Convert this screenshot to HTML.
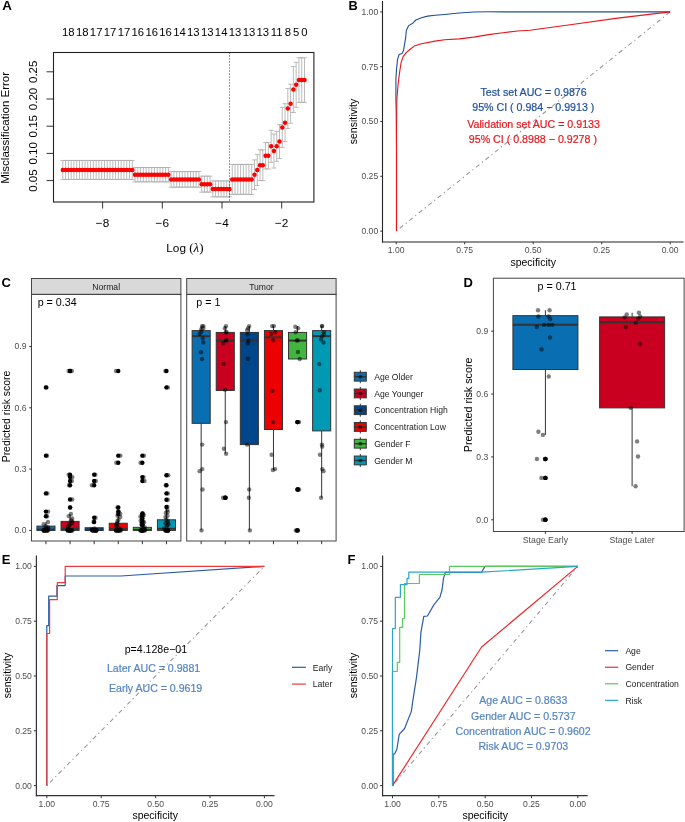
<!DOCTYPE html>
<html><head><meta charset="utf-8"><style>
html,body{margin:0;padding:0;background:#fff;}
svg{display:block;}
text{font-family:"Liberation Sans", sans-serif;}
</style></head><body>
<svg width="685" height="822" viewBox="0 0 685 822" style="will-change:transform;filter:blur(0.3px)">
<rect width="685" height="822" fill="#fff"/>
<text x="2.30" y="9.90" font-size="13.3" fill="#000" text-anchor="start" font-weight="bold">A</text>
<path d="M62.80,160.46V179.46M60.40,160.46H65.20M60.40,179.46H65.20M65.58,160.46V179.46M63.18,160.46H67.98M63.18,179.46H67.98M68.36,160.46V179.46M65.96,160.46H70.76M65.96,179.46H70.76M71.13,160.46V179.46M68.73,160.46H73.53M68.73,179.46H73.53M73.91,160.46V179.46M71.51,160.46H76.31M71.51,179.46H76.31M76.69,160.46V179.46M74.29,160.46H79.09M74.29,179.46H79.09M79.47,160.46V179.46M77.07,160.46H81.87M77.07,179.46H81.87M82.25,160.46V179.46M79.85,160.46H84.65M79.85,179.46H84.65M85.02,160.46V179.46M82.62,160.46H87.42M82.62,179.46H87.42M87.80,160.46V179.46M85.40,160.46H90.20M85.40,179.46H90.20M90.58,160.46V179.46M88.18,160.46H92.98M88.18,179.46H92.98M93.36,160.46V179.46M90.96,160.46H95.76M90.96,179.46H95.76M96.14,160.46V179.46M93.74,160.46H98.54M93.74,179.46H98.54M98.91,160.46V179.46M96.51,160.46H101.31M96.51,179.46H101.31M101.69,160.46V179.46M99.29,160.46H104.09M99.29,179.46H104.09M104.47,160.46V179.46M102.07,160.46H106.87M102.07,179.46H106.87M107.25,160.46V179.46M104.85,160.46H109.65M104.85,179.46H109.65M110.03,160.46V179.46M107.63,160.46H112.43M107.63,179.46H112.43M112.80,160.46V179.46M110.40,160.46H115.20M110.40,179.46H115.20M115.58,160.46V179.46M113.18,160.46H117.98M113.18,179.46H117.98M118.36,160.46V179.46M115.96,160.46H120.76M115.96,179.46H120.76M121.14,160.46V179.46M118.74,160.46H123.54M118.74,179.46H123.54M123.92,160.46V179.46M121.52,160.46H126.32M121.52,179.46H126.32M126.69,160.46V179.46M124.29,160.46H129.09M124.29,179.46H129.09M129.47,160.46V179.46M127.07,160.46H131.87M127.07,179.46H131.87M132.25,160.46V179.46M129.85,160.46H134.65M129.85,179.46H134.65M135.03,167.49V181.89M132.63,167.49H137.43M132.63,181.89H137.43M137.81,167.49V181.89M135.41,167.49H140.21M135.41,181.89H140.21M140.58,167.49V181.89M138.18,167.49H142.98M138.18,181.89H142.98M143.36,167.49V181.89M140.96,167.49H145.76M140.96,181.89H145.76M146.14,167.49V181.89M143.74,167.49H148.54M143.74,181.89H148.54M148.92,167.49V181.89M146.52,167.49H151.32M146.52,181.89H151.32M151.70,167.49V181.89M149.30,167.49H154.10M149.30,181.89H154.10M154.47,167.49V181.89M152.07,167.49H156.87M152.07,181.89H156.87M157.25,167.49V181.89M154.85,167.49H159.65M154.85,181.89H159.65M160.03,167.49V181.89M157.63,167.49H162.43M157.63,181.89H162.43M162.81,167.49V181.89M160.41,167.49H165.21M160.41,181.89H165.21M165.59,167.49V181.89M163.19,167.49H167.99M163.19,181.89H167.99M168.36,167.49V181.89M165.96,167.49H170.76M165.96,181.89H170.76M171.14,171.62V187.22M168.74,171.62H173.54M168.74,187.22H173.54M173.92,171.62V187.22M171.52,171.62H176.32M171.52,187.22H176.32M176.70,171.62V187.22M174.30,171.62H179.10M174.30,187.22H179.10M179.48,171.62V187.22M177.08,171.62H181.88M177.08,187.22H181.88M182.25,171.62V187.22M179.85,171.62H184.65M179.85,187.22H184.65M185.03,171.62V187.22M182.63,171.62H187.43M182.63,187.22H187.43M187.81,171.62V187.22M185.41,171.62H190.21M185.41,187.22H190.21M190.59,171.62V187.22M188.19,171.62H192.99M188.19,187.22H192.99M193.37,171.62V187.22M190.97,171.62H195.77M190.97,187.22H195.77M196.14,171.62V187.22M193.74,171.62H198.54M193.74,187.22H198.54M198.92,171.62V187.22M196.52,171.62H201.32M196.52,187.22H201.32M201.70,176.15V192.15M199.30,176.15H204.10M199.30,192.15H204.10M204.48,176.15V192.15M202.08,176.15H206.88M202.08,192.15H206.88M207.26,176.15V192.15M204.86,176.15H209.66M204.86,192.15H209.66M210.03,176.15V192.15M207.63,176.15H212.43M207.63,192.15H212.43M212.81,180.88V196.88M210.41,180.88H215.21M210.41,196.88H215.21M215.59,180.88V196.88M213.19,180.88H217.99M213.19,196.88H217.99M218.37,180.88V196.88M215.97,180.88H220.77M215.97,196.88H220.77M221.15,180.88V196.88M218.75,180.88H223.55M218.75,196.88H223.55M223.92,180.88V196.88M221.52,180.88H226.32M221.52,196.88H226.32M226.70,180.88V196.88M224.30,180.88H229.10M224.30,196.88H229.10M229.48,180.88V196.88M227.08,180.88H231.88M227.08,196.88H231.88M232.26,164.42V194.42M229.86,164.42H234.66M229.86,194.42H234.66M235.04,164.42V194.42M232.64,164.42H237.44M232.64,194.42H237.44M237.81,164.42V194.42M235.41,164.42H240.21M235.41,194.42H240.21M240.59,164.42V194.42M238.19,164.42H242.99M238.19,194.42H242.99M243.37,164.42V194.42M240.97,164.42H245.77M240.97,194.42H245.77M246.15,164.42V194.42M243.75,164.42H248.55M243.75,194.42H248.55M248.93,164.42V194.42M246.53,164.42H251.33M246.53,194.42H251.33M251.70,164.42V194.42M249.30,164.42H254.10M249.30,194.42H254.10M254.48,159.89V189.49M252.08,159.89H256.88M252.08,189.49H256.88M257.26,154.46V185.46M254.86,154.46H259.66M254.86,185.46H259.66M260.04,149.83V180.63M257.64,149.83H262.44M257.64,180.63H262.44M262.82,149.83V180.63M260.42,149.83H265.22M260.42,180.63H265.22M265.59,142.57V168.97M263.19,142.57H267.99M263.19,168.97H267.99M268.37,142.57V168.97M265.97,142.57H270.77M265.97,168.97H270.77M271.15,130.30V162.30M268.75,130.30H273.55M268.75,162.30H273.55M273.93,134.03V168.03M271.53,134.03H276.33M271.53,168.03H276.33M276.71,131.30V161.30M274.31,131.30H279.11M274.31,161.30H279.11M279.48,124.57V158.57M277.08,124.57H281.88M277.08,158.57H281.88M282.26,107.38V147.38M279.86,107.38H284.66M279.86,147.38H284.66M285.04,103.65V141.65M282.64,103.65H287.44M282.64,141.65H287.44M287.82,88.46V128.46M285.42,88.46H290.22M285.42,128.46H290.22M290.60,84.23V123.23M288.20,84.23H293.00M288.20,123.23H293.00M293.37,66.54V112.54M290.97,66.54H295.77M290.97,112.54H295.77M296.15,62.31V107.31M293.75,62.31H298.55M293.75,107.31H298.55M298.93,57.78V102.38M296.53,57.78H301.33M296.53,102.38H301.33M301.71,57.78V102.38M299.31,57.78H304.11M299.31,102.38H304.11M304.49,57.78V102.38M302.09,57.78H306.89M302.09,102.38H306.89" stroke="#a9a9a9" stroke-width="0.8" fill="none"/>
<circle cx="62.80" cy="169.96" r="2.25" fill="#ff0000"/>
<circle cx="65.58" cy="169.96" r="2.25" fill="#ff0000"/>
<circle cx="68.36" cy="169.96" r="2.25" fill="#ff0000"/>
<circle cx="71.13" cy="169.96" r="2.25" fill="#ff0000"/>
<circle cx="73.91" cy="169.96" r="2.25" fill="#ff0000"/>
<circle cx="76.69" cy="169.96" r="2.25" fill="#ff0000"/>
<circle cx="79.47" cy="169.96" r="2.25" fill="#ff0000"/>
<circle cx="82.25" cy="169.96" r="2.25" fill="#ff0000"/>
<circle cx="85.02" cy="169.96" r="2.25" fill="#ff0000"/>
<circle cx="87.80" cy="169.96" r="2.25" fill="#ff0000"/>
<circle cx="90.58" cy="169.96" r="2.25" fill="#ff0000"/>
<circle cx="93.36" cy="169.96" r="2.25" fill="#ff0000"/>
<circle cx="96.14" cy="169.96" r="2.25" fill="#ff0000"/>
<circle cx="98.91" cy="169.96" r="2.25" fill="#ff0000"/>
<circle cx="101.69" cy="169.96" r="2.25" fill="#ff0000"/>
<circle cx="104.47" cy="169.96" r="2.25" fill="#ff0000"/>
<circle cx="107.25" cy="169.96" r="2.25" fill="#ff0000"/>
<circle cx="110.03" cy="169.96" r="2.25" fill="#ff0000"/>
<circle cx="112.80" cy="169.96" r="2.25" fill="#ff0000"/>
<circle cx="115.58" cy="169.96" r="2.25" fill="#ff0000"/>
<circle cx="118.36" cy="169.96" r="2.25" fill="#ff0000"/>
<circle cx="121.14" cy="169.96" r="2.25" fill="#ff0000"/>
<circle cx="123.92" cy="169.96" r="2.25" fill="#ff0000"/>
<circle cx="126.69" cy="169.96" r="2.25" fill="#ff0000"/>
<circle cx="129.47" cy="169.96" r="2.25" fill="#ff0000"/>
<circle cx="132.25" cy="169.96" r="2.25" fill="#ff0000"/>
<circle cx="135.03" cy="174.69" r="2.25" fill="#ff0000"/>
<circle cx="137.81" cy="174.69" r="2.25" fill="#ff0000"/>
<circle cx="140.58" cy="174.69" r="2.25" fill="#ff0000"/>
<circle cx="143.36" cy="174.69" r="2.25" fill="#ff0000"/>
<circle cx="146.14" cy="174.69" r="2.25" fill="#ff0000"/>
<circle cx="148.92" cy="174.69" r="2.25" fill="#ff0000"/>
<circle cx="151.70" cy="174.69" r="2.25" fill="#ff0000"/>
<circle cx="154.47" cy="174.69" r="2.25" fill="#ff0000"/>
<circle cx="157.25" cy="174.69" r="2.25" fill="#ff0000"/>
<circle cx="160.03" cy="174.69" r="2.25" fill="#ff0000"/>
<circle cx="162.81" cy="174.69" r="2.25" fill="#ff0000"/>
<circle cx="165.59" cy="174.69" r="2.25" fill="#ff0000"/>
<circle cx="168.36" cy="174.69" r="2.25" fill="#ff0000"/>
<circle cx="171.14" cy="179.42" r="2.25" fill="#ff0000"/>
<circle cx="173.92" cy="179.42" r="2.25" fill="#ff0000"/>
<circle cx="176.70" cy="179.42" r="2.25" fill="#ff0000"/>
<circle cx="179.48" cy="179.42" r="2.25" fill="#ff0000"/>
<circle cx="182.25" cy="179.42" r="2.25" fill="#ff0000"/>
<circle cx="185.03" cy="179.42" r="2.25" fill="#ff0000"/>
<circle cx="187.81" cy="179.42" r="2.25" fill="#ff0000"/>
<circle cx="190.59" cy="179.42" r="2.25" fill="#ff0000"/>
<circle cx="193.37" cy="179.42" r="2.25" fill="#ff0000"/>
<circle cx="196.14" cy="179.42" r="2.25" fill="#ff0000"/>
<circle cx="198.92" cy="179.42" r="2.25" fill="#ff0000"/>
<circle cx="201.70" cy="184.15" r="2.25" fill="#ff0000"/>
<circle cx="204.48" cy="184.15" r="2.25" fill="#ff0000"/>
<circle cx="207.26" cy="184.15" r="2.25" fill="#ff0000"/>
<circle cx="210.03" cy="184.15" r="2.25" fill="#ff0000"/>
<circle cx="212.81" cy="188.88" r="2.25" fill="#ff0000"/>
<circle cx="215.59" cy="188.88" r="2.25" fill="#ff0000"/>
<circle cx="218.37" cy="188.88" r="2.25" fill="#ff0000"/>
<circle cx="221.15" cy="188.88" r="2.25" fill="#ff0000"/>
<circle cx="223.92" cy="188.88" r="2.25" fill="#ff0000"/>
<circle cx="226.70" cy="188.88" r="2.25" fill="#ff0000"/>
<circle cx="229.48" cy="188.88" r="2.25" fill="#ff0000"/>
<circle cx="232.26" cy="179.42" r="2.25" fill="#ff0000"/>
<circle cx="235.04" cy="179.42" r="2.25" fill="#ff0000"/>
<circle cx="237.81" cy="179.42" r="2.25" fill="#ff0000"/>
<circle cx="240.59" cy="179.42" r="2.25" fill="#ff0000"/>
<circle cx="243.37" cy="179.42" r="2.25" fill="#ff0000"/>
<circle cx="246.15" cy="179.42" r="2.25" fill="#ff0000"/>
<circle cx="248.93" cy="179.42" r="2.25" fill="#ff0000"/>
<circle cx="251.70" cy="179.42" r="2.25" fill="#ff0000"/>
<circle cx="254.48" cy="174.69" r="2.25" fill="#ff0000"/>
<circle cx="257.26" cy="169.96" r="2.25" fill="#ff0000"/>
<circle cx="260.04" cy="165.23" r="2.25" fill="#ff0000"/>
<circle cx="262.82" cy="165.23" r="2.25" fill="#ff0000"/>
<circle cx="265.59" cy="155.77" r="2.25" fill="#ff0000"/>
<circle cx="268.37" cy="155.77" r="2.25" fill="#ff0000"/>
<circle cx="271.15" cy="146.30" r="2.25" fill="#ff0000"/>
<circle cx="273.93" cy="151.03" r="2.25" fill="#ff0000"/>
<circle cx="276.71" cy="146.30" r="2.25" fill="#ff0000"/>
<circle cx="279.48" cy="141.57" r="2.25" fill="#ff0000"/>
<circle cx="282.26" cy="127.38" r="2.25" fill="#ff0000"/>
<circle cx="285.04" cy="122.65" r="2.25" fill="#ff0000"/>
<circle cx="287.82" cy="108.46" r="2.25" fill="#ff0000"/>
<circle cx="290.60" cy="103.73" r="2.25" fill="#ff0000"/>
<circle cx="293.37" cy="89.54" r="2.25" fill="#ff0000"/>
<circle cx="296.15" cy="84.81" r="2.25" fill="#ff0000"/>
<circle cx="298.93" cy="80.08" r="2.25" fill="#ff0000"/>
<circle cx="301.71" cy="80.08" r="2.25" fill="#ff0000"/>
<circle cx="304.49" cy="80.08" r="2.25" fill="#ff0000"/>
<rect x="53.50" y="52.50" width="260.40" height="149.50" fill="none" stroke="#222" stroke-width="1.1"/>
<line x1="229.50" y1="52.50" x2="229.50" y2="202.00" stroke="#000" stroke-width="0.8" stroke-dasharray="1 2"/>
<line x1="46.50" y1="180.60" x2="53.50" y2="180.60" stroke="#000" stroke-width="0.8"/>
<text x="37.20" y="180.60" font-size="11.5" fill="#000" text-anchor="middle" transform="rotate(-90 37.20 180.60)">0.05</text>
<line x1="46.50" y1="153.40" x2="53.50" y2="153.40" stroke="#000" stroke-width="0.8"/>
<text x="37.20" y="153.40" font-size="11.5" fill="#000" text-anchor="middle" transform="rotate(-90 37.20 153.40)">0.10</text>
<line x1="46.50" y1="126.20" x2="53.50" y2="126.20" stroke="#000" stroke-width="0.8"/>
<text x="37.20" y="126.20" font-size="11.5" fill="#000" text-anchor="middle" transform="rotate(-90 37.20 126.20)">0.15</text>
<line x1="46.50" y1="99.00" x2="53.50" y2="99.00" stroke="#000" stroke-width="0.8"/>
<text x="37.20" y="99.00" font-size="11.5" fill="#000" text-anchor="middle" transform="rotate(-90 37.20 99.00)">0.20</text>
<line x1="46.50" y1="71.80" x2="53.50" y2="71.80" stroke="#000" stroke-width="0.8"/>
<text x="37.20" y="71.80" font-size="11.5" fill="#000" text-anchor="middle" transform="rotate(-90 37.20 71.80)">0.25</text>
<line x1="102.60" y1="202.00" x2="102.60" y2="208.50" stroke="#000" stroke-width="0.8"/>
<text x="102.60" y="227.00" font-size="11.8" fill="#000" text-anchor="middle">−8</text>
<line x1="162.30" y1="202.00" x2="162.30" y2="208.50" stroke="#000" stroke-width="0.8"/>
<text x="162.30" y="227.00" font-size="11.8" fill="#000" text-anchor="middle">−6</text>
<line x1="222.00" y1="202.00" x2="222.00" y2="208.50" stroke="#000" stroke-width="0.8"/>
<text x="222.00" y="227.00" font-size="11.8" fill="#000" text-anchor="middle">−4</text>
<line x1="281.70" y1="202.00" x2="281.70" y2="208.50" stroke="#000" stroke-width="0.8"/>
<text x="281.70" y="227.00" font-size="11.8" fill="#000" text-anchor="middle">−2</text>
<text x="166.3" y="252.0" font-size="11.8">Log <tspan font-family="Liberation Serif" font-size="13">(</tspan><tspan font-family="Liberation Serif" font-style="italic" font-size="13">λ</tspan><tspan font-family="Liberation Serif" font-size="13">)</tspan></text>
<text x="9.20" y="127.90" font-size="11.5" fill="#000" text-anchor="middle" transform="rotate(-90 9.20 127.90)">Misclassification Error</text>
<text x="68.36" y="36.20" font-size="11.3" fill="#000" text-anchor="middle">18</text>
<text x="82.25" y="36.20" font-size="11.3" fill="#000" text-anchor="middle">18</text>
<text x="96.14" y="36.20" font-size="11.3" fill="#000" text-anchor="middle">17</text>
<text x="110.03" y="36.20" font-size="11.3" fill="#000" text-anchor="middle">17</text>
<text x="123.92" y="36.20" font-size="11.3" fill="#000" text-anchor="middle">17</text>
<text x="137.81" y="36.20" font-size="11.3" fill="#000" text-anchor="middle">16</text>
<text x="151.70" y="36.20" font-size="11.3" fill="#000" text-anchor="middle">16</text>
<text x="165.59" y="36.20" font-size="11.3" fill="#000" text-anchor="middle">16</text>
<text x="179.48" y="36.20" font-size="11.3" fill="#000" text-anchor="middle">14</text>
<text x="193.37" y="36.20" font-size="11.3" fill="#000" text-anchor="middle">13</text>
<text x="207.26" y="36.20" font-size="11.3" fill="#000" text-anchor="middle">13</text>
<text x="221.15" y="36.20" font-size="11.3" fill="#000" text-anchor="middle">14</text>
<text x="235.04" y="36.20" font-size="11.3" fill="#000" text-anchor="middle">13</text>
<text x="248.93" y="36.20" font-size="11.3" fill="#000" text-anchor="middle">13</text>
<text x="262.82" y="36.20" font-size="11.3" fill="#000" text-anchor="middle">13</text>
<text x="276.71" y="36.20" font-size="11.3" fill="#000" text-anchor="middle">11</text>
<text x="287.82" y="36.20" font-size="11.3" fill="#000" text-anchor="middle">8</text>
<text x="296.15" y="36.20" font-size="11.3" fill="#000" text-anchor="middle">5</text>
<text x="304.49" y="36.20" font-size="11.3" fill="#000" text-anchor="middle">0</text>
<text x="348.50" y="10.10" font-size="12.8" fill="#000" text-anchor="start" font-weight="bold">B</text>
<line x1="396.20" y1="231.10" x2="670.20" y2="11.90" stroke="#9a9a9a" stroke-width="1.1" stroke-dasharray="1.2 3.3 4.4 3.3"/>
<polyline points="396.50,231.10 396.50,150.00 396.20,110.00 395.90,98.70 395.90,79.20 396.50,69.50 397.50,59.70 399.10,54.40 402.00,53.40 403.50,50.50 404.00,47.70 405.60,38.20 406.40,30.30 408.70,25.60 412.70,23.20 415.90,20.00 421.40,17.70 427.70,16.10 435.00,15.30 444.60,14.50 459.20,13.00 473.80,12.00 488.40,11.80 503.00,11.90 670.20,11.90" fill="none" stroke="#1d4e9a" stroke-width="1.1" stroke-linejoin="round"/>
<polyline points="396.50,231.10 396.50,160.00 396.50,130.00 396.90,98.70 398.10,84.10 399.60,72.40 401.10,62.70 403.00,56.80 405.90,52.90 409.30,50.00 411.10,48.50 414.30,46.10 421.40,43.80 435.00,41.10 444.60,39.70 459.20,38.90 473.80,37.10 488.40,34.60 503.00,32.70 517.60,31.00 530.00,30.30 573.80,24.30 617.60,18.10 670.20,11.90" fill="none" stroke="#e8161c" stroke-width="1.1" stroke-linejoin="round"/>
<line x1="382.50" y1="1.00" x2="382.50" y2="242.50" stroke="#222" stroke-width="1.1"/>
<line x1="382.00" y1="242.00" x2="683.60" y2="242.00" stroke="#222" stroke-width="1.1"/>
<line x1="380.20" y1="231.10" x2="382.50" y2="231.10" stroke="#333" stroke-width="1"/>
<text x="378.20" y="234.00" font-size="8.6" fill="#4d4d4d" text-anchor="end">0.00</text>
<line x1="380.20" y1="176.30" x2="382.50" y2="176.30" stroke="#333" stroke-width="1"/>
<text x="378.20" y="179.20" font-size="8.6" fill="#4d4d4d" text-anchor="end">0.25</text>
<line x1="380.20" y1="121.50" x2="382.50" y2="121.50" stroke="#333" stroke-width="1"/>
<text x="378.20" y="124.40" font-size="8.6" fill="#4d4d4d" text-anchor="end">0.50</text>
<line x1="380.20" y1="66.70" x2="382.50" y2="66.70" stroke="#333" stroke-width="1"/>
<text x="378.20" y="69.60" font-size="8.6" fill="#4d4d4d" text-anchor="end">0.75</text>
<line x1="380.20" y1="11.90" x2="382.50" y2="11.90" stroke="#333" stroke-width="1"/>
<text x="378.20" y="14.80" font-size="8.6" fill="#4d4d4d" text-anchor="end">1.00</text>
<line x1="396.20" y1="242.00" x2="396.20" y2="244.30" stroke="#333" stroke-width="1"/>
<text x="396.20" y="252.70" font-size="8.6" fill="#4d4d4d" text-anchor="middle">1.00</text>
<line x1="464.70" y1="242.00" x2="464.70" y2="244.30" stroke="#333" stroke-width="1"/>
<text x="464.70" y="252.70" font-size="8.6" fill="#4d4d4d" text-anchor="middle">0.75</text>
<line x1="533.20" y1="242.00" x2="533.20" y2="244.30" stroke="#333" stroke-width="1"/>
<text x="533.20" y="252.70" font-size="8.6" fill="#4d4d4d" text-anchor="middle">0.50</text>
<line x1="601.70" y1="242.00" x2="601.70" y2="244.30" stroke="#333" stroke-width="1"/>
<text x="601.70" y="252.70" font-size="8.6" fill="#4d4d4d" text-anchor="middle">0.25</text>
<line x1="670.20" y1="242.00" x2="670.20" y2="244.30" stroke="#333" stroke-width="1"/>
<text x="670.20" y="252.70" font-size="8.6" fill="#4d4d4d" text-anchor="middle">0.00</text>
<text x="533.20" y="265.70" font-size="10.5" fill="#000" text-anchor="middle">specificity</text>
<text x="357.00" y="121.50" font-size="10.5" fill="#000" text-anchor="middle" transform="rotate(-90 357.00 121.50)">sensitivity</text>
<text x="533.60" y="95.90" font-size="10.65" fill="#1d4e9a" text-anchor="middle" stroke="#1d4e9a" stroke-width="0.2">Test set AUC = 0.9876</text>
<text x="533.30" y="111.10" font-size="10.65" fill="#1d4e9a" text-anchor="middle" stroke="#1d4e9a" stroke-width="0.2">95% CI ( 0.984 − 0.9913 )</text>
<text x="533.60" y="128.00" font-size="10.65" fill="#e8161c" text-anchor="middle" stroke="#e8161c" stroke-width="0.2">Validation set AUC = 0.9133</text>
<text x="532.90" y="143.40" font-size="10.65" fill="#e8161c" text-anchor="middle" stroke="#e8161c" stroke-width="0.2">95% CI ( 0.8988 − 0.9278 )</text>
<text x="1.60" y="287.10" font-size="13" fill="#000" text-anchor="start" font-weight="bold">C</text>
<rect x="31.50" y="278.50" width="149.40" height="15.90" fill="#d9d9d9" stroke="#444" stroke-width="1"/>
<rect x="31.50" y="294.40" width="149.40" height="246.60" fill="none" stroke="#444" stroke-width="1"/>
<rect x="186.70" y="278.50" width="149.40" height="15.90" fill="#d9d9d9" stroke="#444" stroke-width="1"/>
<rect x="186.70" y="294.40" width="149.40" height="246.60" fill="none" stroke="#444" stroke-width="1"/>
<text x="106.20" y="289.70" font-size="8.6" fill="#1a1a1a" text-anchor="middle">Normal</text>
<text x="261.40" y="289.70" font-size="8.6" fill="#1a1a1a" text-anchor="middle">Tumor</text>
<text x="37.70" y="306.30" font-size="10.7" fill="#000" text-anchor="start">p = 0.34</text>
<text x="196.30" y="306.30" font-size="10.7" fill="#000" text-anchor="start">p = 1</text>
<line x1="29.20" y1="530.40" x2="31.50" y2="530.40" stroke="#333" stroke-width="1"/>
<text x="26.50" y="533.30" font-size="8.6" fill="#4d4d4d" text-anchor="end">0.0</text>
<line x1="29.20" y1="469.11" x2="31.50" y2="469.11" stroke="#333" stroke-width="1"/>
<text x="26.50" y="472.01" font-size="8.6" fill="#4d4d4d" text-anchor="end">0.3</text>
<line x1="29.20" y1="407.82" x2="31.50" y2="407.82" stroke="#333" stroke-width="1"/>
<text x="26.50" y="410.72" font-size="8.6" fill="#4d4d4d" text-anchor="end">0.6</text>
<line x1="29.20" y1="346.53" x2="31.50" y2="346.53" stroke="#333" stroke-width="1"/>
<text x="26.50" y="349.43" font-size="8.6" fill="#4d4d4d" text-anchor="end">0.9</text>
<text x="10.20" y="416.50" font-size="10.45" fill="#000" text-anchor="middle" transform="rotate(-90 10.20 416.50)">Predicted risk score</text>
<line x1="45.96" y1="526.11" x2="45.96" y2="522.02" stroke="#333" stroke-width="1"/>
<line x1="45.96" y1="530.40" x2="45.96" y2="530.40" stroke="#333" stroke-width="1"/>
<rect x="36.92" y="526.11" width="18.08" height="4.29" fill="#0a6eb2" stroke="#333" stroke-width="1"/>
<line x1="36.92" y1="529.58" x2="55.00" y2="529.58" stroke="#333" stroke-width="2"/>
<circle cx="45.96" cy="387.39" r="2.2" fill="#000"/>
<circle cx="45.96" cy="455.63" r="2.2" fill="#000"/>
<circle cx="45.96" cy="493.42" r="2.2" fill="#000"/>
<circle cx="45.96" cy="511.60" r="2.2" fill="#000"/>
<circle cx="45.96" cy="516.30" r="2.2" fill="#000"/>
<circle cx="46.55" cy="387.39" r="2.2" fill="#000" fill-opacity="0.5"/>
<circle cx="47.12" cy="455.63" r="2.2" fill="#000" fill-opacity="0.5"/>
<circle cx="47.38" cy="493.42" r="2.2" fill="#000" fill-opacity="0.5"/>
<circle cx="48.08" cy="511.60" r="2.2" fill="#000" fill-opacity="0.5"/>
<circle cx="47.11" cy="516.30" r="2.2" fill="#000" fill-opacity="0.5"/>
<circle cx="47.99" cy="522.02" r="2.2" fill="#000" fill-opacity="0.5"/>
<circle cx="43.70" cy="524.27" r="2.2" fill="#000" fill-opacity="0.5"/>
<circle cx="45.79" cy="526.31" r="2.2" fill="#000" fill-opacity="0.5"/>
<circle cx="48.09" cy="527.34" r="2.2" fill="#000" fill-opacity="0.5"/>
<circle cx="46.68" cy="528.36" r="2.2" fill="#000" fill-opacity="0.5"/>
<circle cx="47.88" cy="528.77" r="2.2" fill="#000" fill-opacity="0.5"/>
<circle cx="44.10" cy="529.38" r="2.2" fill="#000" fill-opacity="0.5"/>
<circle cx="45.81" cy="529.79" r="2.2" fill="#000" fill-opacity="0.5"/>
<circle cx="44.74" cy="530.40" r="2.2" fill="#000" fill-opacity="0.5"/>
<circle cx="46.17" cy="530.40" r="2.2" fill="#000" fill-opacity="0.5"/>
<circle cx="46.31" cy="530.40" r="2.2" fill="#000" fill-opacity="0.5"/>
<circle cx="43.62" cy="530.40" r="2.2" fill="#000" fill-opacity="0.5"/>
<circle cx="44.60" cy="530.40" r="2.2" fill="#000" fill-opacity="0.5"/>
<circle cx="44.90" cy="530.40" r="2.2" fill="#000" fill-opacity="0.5"/>
<circle cx="47.96" cy="530.40" r="2.2" fill="#000" fill-opacity="0.5"/>
<circle cx="47.24" cy="530.40" r="2.2" fill="#000" fill-opacity="0.5"/>
<circle cx="44.33" cy="530.40" r="2.2" fill="#000" fill-opacity="0.5"/>
<circle cx="47.39" cy="530.40" r="2.2" fill="#000" fill-opacity="0.5"/>
<circle cx="44.23" cy="530.40" r="2.2" fill="#000" fill-opacity="0.5"/>
<circle cx="46.52" cy="530.40" r="2.2" fill="#000" fill-opacity="0.5"/>
<circle cx="44.17" cy="530.40" r="2.2" fill="#000" fill-opacity="0.5"/>
<circle cx="43.57" cy="530.40" r="2.2" fill="#000" fill-opacity="0.5"/>
<line x1="45.96" y1="541.00" x2="45.96" y2="544.20" stroke="#333" stroke-width="1"/>
<line x1="70.06" y1="521.41" x2="70.06" y2="514.06" stroke="#333" stroke-width="1"/>
<line x1="70.06" y1="530.40" x2="70.06" y2="530.40" stroke="#333" stroke-width="1"/>
<rect x="61.02" y="521.41" width="18.08" height="8.99" fill="#c9001f" stroke="#333" stroke-width="1"/>
<line x1="61.02" y1="528.77" x2="79.10" y2="528.77" stroke="#333" stroke-width="2"/>
<circle cx="70.06" cy="371.05" r="2.2" fill="#000"/>
<circle cx="70.06" cy="371.05" r="2.2" fill="#000"/>
<circle cx="70.06" cy="474.63" r="2.2" fill="#000"/>
<circle cx="70.06" cy="477.08" r="2.2" fill="#000"/>
<circle cx="70.06" cy="480.96" r="2.2" fill="#000"/>
<circle cx="70.06" cy="485.25" r="2.2" fill="#000"/>
<circle cx="70.06" cy="499.55" r="2.2" fill="#000"/>
<circle cx="70.06" cy="507.52" r="2.2" fill="#000"/>
<circle cx="71.84" cy="371.05" r="2.2" fill="#000" fill-opacity="0.5"/>
<circle cx="68.67" cy="371.05" r="2.2" fill="#000" fill-opacity="0.5"/>
<circle cx="68.69" cy="474.63" r="2.2" fill="#000" fill-opacity="0.5"/>
<circle cx="72.38" cy="477.08" r="2.2" fill="#000" fill-opacity="0.5"/>
<circle cx="71.85" cy="480.96" r="2.2" fill="#000" fill-opacity="0.5"/>
<circle cx="69.05" cy="485.25" r="2.2" fill="#000" fill-opacity="0.5"/>
<circle cx="72.28" cy="499.55" r="2.2" fill="#000" fill-opacity="0.5"/>
<circle cx="70.25" cy="507.52" r="2.2" fill="#000" fill-opacity="0.5"/>
<circle cx="70.91" cy="514.06" r="2.2" fill="#000" fill-opacity="0.5"/>
<circle cx="68.64" cy="516.10" r="2.2" fill="#000" fill-opacity="0.5"/>
<circle cx="72.18" cy="518.55" r="2.2" fill="#000" fill-opacity="0.5"/>
<circle cx="70.98" cy="520.18" r="2.2" fill="#000" fill-opacity="0.5"/>
<circle cx="72.30" cy="521.41" r="2.2" fill="#000" fill-opacity="0.5"/>
<circle cx="71.95" cy="523.25" r="2.2" fill="#000" fill-opacity="0.5"/>
<circle cx="69.09" cy="524.27" r="2.2" fill="#000" fill-opacity="0.5"/>
<circle cx="69.39" cy="525.29" r="2.2" fill="#000" fill-opacity="0.5"/>
<circle cx="68.46" cy="526.31" r="2.2" fill="#000" fill-opacity="0.5"/>
<circle cx="68.36" cy="528.36" r="2.2" fill="#000" fill-opacity="0.5"/>
<circle cx="67.97" cy="529.38" r="2.2" fill="#000" fill-opacity="0.5"/>
<circle cx="69.11" cy="530.40" r="2.2" fill="#000" fill-opacity="0.5"/>
<circle cx="70.55" cy="530.40" r="2.2" fill="#000" fill-opacity="0.5"/>
<circle cx="67.68" cy="530.40" r="2.2" fill="#000" fill-opacity="0.5"/>
<circle cx="70.91" cy="530.40" r="2.2" fill="#000" fill-opacity="0.5"/>
<circle cx="69.28" cy="530.40" r="2.2" fill="#000" fill-opacity="0.5"/>
<circle cx="69.15" cy="530.40" r="2.2" fill="#000" fill-opacity="0.5"/>
<circle cx="71.59" cy="530.40" r="2.2" fill="#000" fill-opacity="0.5"/>
<circle cx="69.97" cy="530.40" r="2.2" fill="#000" fill-opacity="0.5"/>
<circle cx="69.18" cy="530.40" r="2.2" fill="#000" fill-opacity="0.5"/>
<circle cx="69.97" cy="530.40" r="2.2" fill="#000" fill-opacity="0.5"/>
<circle cx="71.04" cy="530.40" r="2.2" fill="#000" fill-opacity="0.5"/>
<circle cx="67.93" cy="530.40" r="2.2" fill="#000" fill-opacity="0.5"/>
<circle cx="72.34" cy="530.40" r="2.2" fill="#000" fill-opacity="0.5"/>
<circle cx="67.77" cy="530.40" r="2.2" fill="#000" fill-opacity="0.5"/>
<line x1="70.06" y1="541.00" x2="70.06" y2="544.20" stroke="#333" stroke-width="1"/>
<line x1="94.16" y1="527.74" x2="94.16" y2="527.74" stroke="#333" stroke-width="1"/>
<line x1="94.16" y1="530.40" x2="94.16" y2="530.40" stroke="#333" stroke-width="1"/>
<rect x="85.12" y="527.74" width="18.08" height="2.66" fill="#00468b" stroke="#333" stroke-width="1"/>
<line x1="85.12" y1="529.99" x2="103.20" y2="529.99" stroke="#333" stroke-width="2"/>
<circle cx="94.16" cy="474.63" r="2.2" fill="#000"/>
<circle cx="94.16" cy="480.96" r="2.2" fill="#000"/>
<circle cx="94.16" cy="485.25" r="2.2" fill="#000"/>
<circle cx="94.16" cy="517.73" r="2.2" fill="#000"/>
<circle cx="94.16" cy="522.02" r="2.2" fill="#000"/>
<circle cx="95.36" cy="474.63" r="2.2" fill="#000" fill-opacity="0.5"/>
<circle cx="95.82" cy="480.96" r="2.2" fill="#000" fill-opacity="0.5"/>
<circle cx="91.85" cy="485.25" r="2.2" fill="#000" fill-opacity="0.5"/>
<circle cx="95.54" cy="517.73" r="2.2" fill="#000" fill-opacity="0.5"/>
<circle cx="93.52" cy="522.02" r="2.2" fill="#000" fill-opacity="0.5"/>
<circle cx="94.54" cy="528.36" r="2.2" fill="#000" fill-opacity="0.5"/>
<circle cx="91.80" cy="529.38" r="2.2" fill="#000" fill-opacity="0.5"/>
<circle cx="91.98" cy="529.79" r="2.2" fill="#000" fill-opacity="0.5"/>
<circle cx="92.63" cy="530.40" r="2.2" fill="#000" fill-opacity="0.5"/>
<circle cx="96.34" cy="530.40" r="2.2" fill="#000" fill-opacity="0.5"/>
<circle cx="92.70" cy="530.40" r="2.2" fill="#000" fill-opacity="0.5"/>
<circle cx="95.39" cy="530.40" r="2.2" fill="#000" fill-opacity="0.5"/>
<circle cx="96.22" cy="530.40" r="2.2" fill="#000" fill-opacity="0.5"/>
<circle cx="96.28" cy="530.40" r="2.2" fill="#000" fill-opacity="0.5"/>
<circle cx="93.41" cy="530.40" r="2.2" fill="#000" fill-opacity="0.5"/>
<circle cx="93.46" cy="530.40" r="2.2" fill="#000" fill-opacity="0.5"/>
<circle cx="94.28" cy="530.40" r="2.2" fill="#000" fill-opacity="0.5"/>
<circle cx="95.48" cy="530.40" r="2.2" fill="#000" fill-opacity="0.5"/>
<circle cx="92.28" cy="530.40" r="2.2" fill="#000" fill-opacity="0.5"/>
<circle cx="95.35" cy="530.40" r="2.2" fill="#000" fill-opacity="0.5"/>
<circle cx="95.59" cy="530.40" r="2.2" fill="#000" fill-opacity="0.5"/>
<circle cx="95.89" cy="530.40" r="2.2" fill="#000" fill-opacity="0.5"/>
<line x1="94.16" y1="541.00" x2="94.16" y2="544.20" stroke="#333" stroke-width="1"/>
<line x1="118.26" y1="523.25" x2="118.26" y2="515.69" stroke="#333" stroke-width="1"/>
<line x1="118.26" y1="530.40" x2="118.26" y2="530.40" stroke="#333" stroke-width="1"/>
<rect x="109.22" y="523.25" width="18.08" height="7.15" fill="#ed0000" stroke="#333" stroke-width="1"/>
<line x1="109.22" y1="529.17" x2="127.30" y2="529.17" stroke="#333" stroke-width="2"/>
<circle cx="118.26" cy="371.05" r="2.2" fill="#000"/>
<circle cx="118.26" cy="455.63" r="2.2" fill="#000"/>
<circle cx="118.26" cy="462.78" r="2.2" fill="#000"/>
<circle cx="118.26" cy="507.52" r="2.2" fill="#000"/>
<circle cx="118.26" cy="511.60" r="2.2" fill="#000"/>
<circle cx="118.26" cy="514.06" r="2.2" fill="#000"/>
<circle cx="116.04" cy="371.05" r="2.2" fill="#000" fill-opacity="0.5"/>
<circle cx="120.40" cy="455.63" r="2.2" fill="#000" fill-opacity="0.5"/>
<circle cx="116.30" cy="462.78" r="2.2" fill="#000" fill-opacity="0.5"/>
<circle cx="117.50" cy="507.52" r="2.2" fill="#000" fill-opacity="0.5"/>
<circle cx="118.79" cy="511.60" r="2.2" fill="#000" fill-opacity="0.5"/>
<circle cx="120.27" cy="514.06" r="2.2" fill="#000" fill-opacity="0.5"/>
<circle cx="117.49" cy="515.69" r="2.2" fill="#000" fill-opacity="0.5"/>
<circle cx="120.30" cy="517.12" r="2.2" fill="#000" fill-opacity="0.5"/>
<circle cx="118.48" cy="519.78" r="2.2" fill="#000" fill-opacity="0.5"/>
<circle cx="117.36" cy="521.21" r="2.2" fill="#000" fill-opacity="0.5"/>
<circle cx="117.38" cy="523.25" r="2.2" fill="#000" fill-opacity="0.5"/>
<circle cx="116.71" cy="524.27" r="2.2" fill="#000" fill-opacity="0.5"/>
<circle cx="116.24" cy="525.29" r="2.2" fill="#000" fill-opacity="0.5"/>
<circle cx="116.57" cy="526.31" r="2.2" fill="#000" fill-opacity="0.5"/>
<circle cx="119.17" cy="528.36" r="2.2" fill="#000" fill-opacity="0.5"/>
<circle cx="120.64" cy="529.38" r="2.2" fill="#000" fill-opacity="0.5"/>
<circle cx="116.64" cy="530.40" r="2.2" fill="#000" fill-opacity="0.5"/>
<circle cx="116.09" cy="530.40" r="2.2" fill="#000" fill-opacity="0.5"/>
<circle cx="120.60" cy="530.40" r="2.2" fill="#000" fill-opacity="0.5"/>
<circle cx="118.42" cy="530.40" r="2.2" fill="#000" fill-opacity="0.5"/>
<circle cx="117.81" cy="530.40" r="2.2" fill="#000" fill-opacity="0.5"/>
<circle cx="117.00" cy="530.40" r="2.2" fill="#000" fill-opacity="0.5"/>
<circle cx="118.71" cy="530.40" r="2.2" fill="#000" fill-opacity="0.5"/>
<circle cx="119.83" cy="530.40" r="2.2" fill="#000" fill-opacity="0.5"/>
<circle cx="118.05" cy="530.40" r="2.2" fill="#000" fill-opacity="0.5"/>
<circle cx="117.88" cy="530.40" r="2.2" fill="#000" fill-opacity="0.5"/>
<circle cx="116.13" cy="530.40" r="2.2" fill="#000" fill-opacity="0.5"/>
<circle cx="120.26" cy="530.40" r="2.2" fill="#000" fill-opacity="0.5"/>
<circle cx="116.02" cy="530.40" r="2.2" fill="#000" fill-opacity="0.5"/>
<circle cx="118.23" cy="530.40" r="2.2" fill="#000" fill-opacity="0.5"/>
<line x1="118.26" y1="541.00" x2="118.26" y2="544.20" stroke="#333" stroke-width="1"/>
<line x1="142.36" y1="527.34" x2="142.36" y2="527.34" stroke="#333" stroke-width="1"/>
<line x1="142.36" y1="530.40" x2="142.36" y2="530.40" stroke="#333" stroke-width="1"/>
<rect x="133.32" y="527.34" width="18.08" height="3.06" fill="#42b540" stroke="#333" stroke-width="1"/>
<line x1="133.32" y1="529.79" x2="151.40" y2="529.79" stroke="#333" stroke-width="2"/>
<circle cx="142.36" cy="455.63" r="2.2" fill="#000"/>
<circle cx="142.36" cy="462.78" r="2.2" fill="#000"/>
<circle cx="142.36" cy="477.08" r="2.2" fill="#000"/>
<circle cx="142.36" cy="480.96" r="2.2" fill="#000"/>
<circle cx="142.36" cy="513.44" r="2.2" fill="#000"/>
<circle cx="142.36" cy="515.08" r="2.2" fill="#000"/>
<circle cx="142.36" cy="516.51" r="2.2" fill="#000"/>
<circle cx="142.36" cy="518.55" r="2.2" fill="#000"/>
<circle cx="142.36" cy="520.80" r="2.2" fill="#000"/>
<circle cx="142.36" cy="522.23" r="2.2" fill="#000"/>
<circle cx="142.36" cy="524.27" r="2.2" fill="#000"/>
<circle cx="142.36" cy="525.29" r="2.2" fill="#000"/>
<circle cx="143.98" cy="455.63" r="2.2" fill="#000" fill-opacity="0.5"/>
<circle cx="140.59" cy="462.78" r="2.2" fill="#000" fill-opacity="0.5"/>
<circle cx="143.47" cy="477.08" r="2.2" fill="#000" fill-opacity="0.5"/>
<circle cx="144.52" cy="480.96" r="2.2" fill="#000" fill-opacity="0.5"/>
<circle cx="142.99" cy="513.44" r="2.2" fill="#000" fill-opacity="0.5"/>
<circle cx="143.74" cy="515.08" r="2.2" fill="#000" fill-opacity="0.5"/>
<circle cx="140.47" cy="516.51" r="2.2" fill="#000" fill-opacity="0.5"/>
<circle cx="142.05" cy="518.55" r="2.2" fill="#000" fill-opacity="0.5"/>
<circle cx="140.68" cy="520.80" r="2.2" fill="#000" fill-opacity="0.5"/>
<circle cx="144.01" cy="522.23" r="2.2" fill="#000" fill-opacity="0.5"/>
<circle cx="141.38" cy="524.27" r="2.2" fill="#000" fill-opacity="0.5"/>
<circle cx="142.14" cy="525.29" r="2.2" fill="#000" fill-opacity="0.5"/>
<circle cx="144.76" cy="527.34" r="2.2" fill="#000" fill-opacity="0.5"/>
<circle cx="144.05" cy="528.36" r="2.2" fill="#000" fill-opacity="0.5"/>
<circle cx="144.64" cy="529.38" r="2.2" fill="#000" fill-opacity="0.5"/>
<circle cx="142.14" cy="530.40" r="2.2" fill="#000" fill-opacity="0.5"/>
<circle cx="142.30" cy="530.40" r="2.2" fill="#000" fill-opacity="0.5"/>
<circle cx="143.46" cy="530.40" r="2.2" fill="#000" fill-opacity="0.5"/>
<circle cx="142.26" cy="530.40" r="2.2" fill="#000" fill-opacity="0.5"/>
<circle cx="141.36" cy="530.40" r="2.2" fill="#000" fill-opacity="0.5"/>
<circle cx="141.90" cy="530.40" r="2.2" fill="#000" fill-opacity="0.5"/>
<circle cx="140.66" cy="530.40" r="2.2" fill="#000" fill-opacity="0.5"/>
<circle cx="141.77" cy="530.40" r="2.2" fill="#000" fill-opacity="0.5"/>
<circle cx="144.70" cy="530.40" r="2.2" fill="#000" fill-opacity="0.5"/>
<circle cx="144.57" cy="530.40" r="2.2" fill="#000" fill-opacity="0.5"/>
<circle cx="142.97" cy="530.40" r="2.2" fill="#000" fill-opacity="0.5"/>
<circle cx="142.36" cy="530.40" r="2.2" fill="#000" fill-opacity="0.5"/>
<circle cx="141.58" cy="530.40" r="2.2" fill="#000" fill-opacity="0.5"/>
<circle cx="140.39" cy="530.40" r="2.2" fill="#000" fill-opacity="0.5"/>
<line x1="142.36" y1="541.00" x2="142.36" y2="544.20" stroke="#333" stroke-width="1"/>
<line x1="166.46" y1="519.78" x2="166.46" y2="508.13" stroke="#333" stroke-width="1"/>
<line x1="166.46" y1="530.40" x2="166.46" y2="530.40" stroke="#333" stroke-width="1"/>
<rect x="157.42" y="519.78" width="18.08" height="10.62" fill="#0099b4" stroke="#333" stroke-width="1"/>
<line x1="157.42" y1="528.77" x2="175.50" y2="528.77" stroke="#333" stroke-width="2"/>
<circle cx="166.46" cy="371.05" r="2.2" fill="#000"/>
<circle cx="166.46" cy="387.39" r="2.2" fill="#000"/>
<circle cx="166.46" cy="475.24" r="2.2" fill="#000"/>
<circle cx="166.46" cy="485.25" r="2.2" fill="#000"/>
<circle cx="166.46" cy="493.42" r="2.2" fill="#000"/>
<circle cx="166.46" cy="499.75" r="2.2" fill="#000"/>
<circle cx="166.46" cy="506.91" r="2.2" fill="#000"/>
<circle cx="165.37" cy="371.05" r="2.2" fill="#000" fill-opacity="0.5"/>
<circle cx="167.81" cy="387.39" r="2.2" fill="#000" fill-opacity="0.5"/>
<circle cx="168.22" cy="475.24" r="2.2" fill="#000" fill-opacity="0.5"/>
<circle cx="165.79" cy="485.25" r="2.2" fill="#000" fill-opacity="0.5"/>
<circle cx="167.83" cy="493.42" r="2.2" fill="#000" fill-opacity="0.5"/>
<circle cx="167.78" cy="499.75" r="2.2" fill="#000" fill-opacity="0.5"/>
<circle cx="167.39" cy="506.91" r="2.2" fill="#000" fill-opacity="0.5"/>
<circle cx="167.25" cy="509.97" r="2.2" fill="#000" fill-opacity="0.5"/>
<circle cx="167.71" cy="512.01" r="2.2" fill="#000" fill-opacity="0.5"/>
<circle cx="165.80" cy="513.03" r="2.2" fill="#000" fill-opacity="0.5"/>
<circle cx="167.44" cy="515.69" r="2.2" fill="#000" fill-opacity="0.5"/>
<circle cx="165.41" cy="517.12" r="2.2" fill="#000" fill-opacity="0.5"/>
<circle cx="166.39" cy="519.78" r="2.2" fill="#000" fill-opacity="0.5"/>
<circle cx="167.75" cy="521.21" r="2.2" fill="#000" fill-opacity="0.5"/>
<circle cx="167.38" cy="522.23" r="2.2" fill="#000" fill-opacity="0.5"/>
<circle cx="165.47" cy="523.25" r="2.2" fill="#000" fill-opacity="0.5"/>
<circle cx="168.60" cy="524.27" r="2.2" fill="#000" fill-opacity="0.5"/>
<circle cx="167.18" cy="525.29" r="2.2" fill="#000" fill-opacity="0.5"/>
<circle cx="166.85" cy="526.31" r="2.2" fill="#000" fill-opacity="0.5"/>
<circle cx="164.12" cy="528.36" r="2.2" fill="#000" fill-opacity="0.5"/>
<circle cx="166.69" cy="530.40" r="2.2" fill="#000" fill-opacity="0.5"/>
<circle cx="165.26" cy="530.40" r="2.2" fill="#000" fill-opacity="0.5"/>
<circle cx="167.28" cy="530.40" r="2.2" fill="#000" fill-opacity="0.5"/>
<circle cx="166.28" cy="530.40" r="2.2" fill="#000" fill-opacity="0.5"/>
<circle cx="167.98" cy="530.40" r="2.2" fill="#000" fill-opacity="0.5"/>
<circle cx="167.17" cy="530.40" r="2.2" fill="#000" fill-opacity="0.5"/>
<circle cx="167.89" cy="530.40" r="2.2" fill="#000" fill-opacity="0.5"/>
<circle cx="165.73" cy="530.40" r="2.2" fill="#000" fill-opacity="0.5"/>
<circle cx="167.15" cy="530.40" r="2.2" fill="#000" fill-opacity="0.5"/>
<circle cx="167.60" cy="530.40" r="2.2" fill="#000" fill-opacity="0.5"/>
<circle cx="168.04" cy="530.40" r="2.2" fill="#000" fill-opacity="0.5"/>
<circle cx="165.74" cy="530.40" r="2.2" fill="#000" fill-opacity="0.5"/>
<circle cx="168.11" cy="530.40" r="2.2" fill="#000" fill-opacity="0.5"/>
<circle cx="168.24" cy="530.40" r="2.2" fill="#000" fill-opacity="0.5"/>
<line x1="166.46" y1="541.00" x2="166.46" y2="544.20" stroke="#333" stroke-width="1"/>
<line x1="201.16" y1="330.59" x2="201.16" y2="326.10" stroke="#333" stroke-width="1"/>
<line x1="201.16" y1="423.35" x2="201.16" y2="530.40" stroke="#333" stroke-width="1"/>
<rect x="192.12" y="330.59" width="18.08" height="92.75" fill="#0a6eb2" stroke="#333" stroke-width="1"/>
<line x1="192.12" y1="336.11" x2="210.20" y2="336.11" stroke="#333" stroke-width="2"/>
<circle cx="202.06" cy="326.10" r="2.2" fill="#000" fill-opacity="0.5"/>
<circle cx="203.45" cy="326.10" r="2.2" fill="#000" fill-opacity="0.5"/>
<circle cx="203.35" cy="328.14" r="2.2" fill="#000" fill-opacity="0.5"/>
<circle cx="201.25" cy="329.16" r="2.2" fill="#000" fill-opacity="0.5"/>
<circle cx="201.30" cy="332.23" r="2.2" fill="#000" fill-opacity="0.5"/>
<circle cx="199.56" cy="334.07" r="2.2" fill="#000" fill-opacity="0.5"/>
<circle cx="202.78" cy="338.36" r="2.2" fill="#000" fill-opacity="0.5"/>
<circle cx="203.26" cy="342.44" r="2.2" fill="#000" fill-opacity="0.5"/>
<circle cx="201.05" cy="352.25" r="2.2" fill="#000" fill-opacity="0.5"/>
<circle cx="202.08" cy="358.99" r="2.2" fill="#000" fill-opacity="0.5"/>
<circle cx="202.21" cy="444.59" r="2.2" fill="#000" fill-opacity="0.5"/>
<circle cx="202.27" cy="469.11" r="2.2" fill="#000" fill-opacity="0.5"/>
<circle cx="199.58" cy="471.15" r="2.2" fill="#000" fill-opacity="0.5"/>
<circle cx="202.51" cy="489.54" r="2.2" fill="#000" fill-opacity="0.5"/>
<circle cx="201.55" cy="530.40" r="2.2" fill="#000" fill-opacity="0.5"/>
<line x1="201.16" y1="541.00" x2="201.16" y2="544.20" stroke="#333" stroke-width="1"/>
<line x1="225.26" y1="332.43" x2="225.26" y2="326.10" stroke="#333" stroke-width="1"/>
<line x1="225.26" y1="390.45" x2="225.26" y2="453.79" stroke="#333" stroke-width="1"/>
<rect x="216.22" y="332.43" width="18.08" height="58.02" fill="#c9001f" stroke="#333" stroke-width="1"/>
<line x1="216.22" y1="340.61" x2="234.30" y2="340.61" stroke="#333" stroke-width="2"/>
<circle cx="225.26" cy="497.71" r="2.2" fill="#000"/>
<circle cx="225.26" cy="497.71" r="2.2" fill="#000"/>
<circle cx="226.05" cy="326.10" r="2.2" fill="#000" fill-opacity="0.5"/>
<circle cx="224.88" cy="328.14" r="2.2" fill="#000" fill-opacity="0.5"/>
<circle cx="225.85" cy="332.23" r="2.2" fill="#000" fill-opacity="0.5"/>
<circle cx="226.58" cy="332.23" r="2.2" fill="#000" fill-opacity="0.5"/>
<circle cx="225.92" cy="340.40" r="2.2" fill="#000" fill-opacity="0.5"/>
<circle cx="226.32" cy="340.40" r="2.2" fill="#000" fill-opacity="0.5"/>
<circle cx="222.99" cy="343.26" r="2.2" fill="#000" fill-opacity="0.5"/>
<circle cx="223.63" cy="363.90" r="2.2" fill="#000" fill-opacity="0.5"/>
<circle cx="224.98" cy="389.64" r="2.2" fill="#000" fill-opacity="0.5"/>
<circle cx="225.98" cy="422.12" r="2.2" fill="#000" fill-opacity="0.5"/>
<circle cx="223.91" cy="448.68" r="2.2" fill="#000" fill-opacity="0.5"/>
<circle cx="226.15" cy="453.79" r="2.2" fill="#000" fill-opacity="0.5"/>
<circle cx="225.89" cy="497.71" r="2.2" fill="#000" fill-opacity="0.5"/>
<circle cx="223.06" cy="497.71" r="2.2" fill="#000" fill-opacity="0.5"/>
<line x1="225.26" y1="541.00" x2="225.26" y2="544.20" stroke="#333" stroke-width="1"/>
<line x1="249.36" y1="332.43" x2="249.36" y2="326.10" stroke="#333" stroke-width="1"/>
<line x1="249.36" y1="444.59" x2="249.36" y2="530.40" stroke="#333" stroke-width="1"/>
<rect x="240.32" y="332.43" width="18.08" height="112.16" fill="#00468b" stroke="#333" stroke-width="1"/>
<line x1="240.32" y1="340.61" x2="258.40" y2="340.61" stroke="#333" stroke-width="2"/>
<circle cx="249.22" cy="326.10" r="2.2" fill="#000" fill-opacity="0.5"/>
<circle cx="248.05" cy="328.14" r="2.2" fill="#000" fill-opacity="0.5"/>
<circle cx="247.22" cy="330.19" r="2.2" fill="#000" fill-opacity="0.5"/>
<circle cx="247.60" cy="334.27" r="2.2" fill="#000" fill-opacity="0.5"/>
<circle cx="248.48" cy="340.40" r="2.2" fill="#000" fill-opacity="0.5"/>
<circle cx="247.83" cy="343.26" r="2.2" fill="#000" fill-opacity="0.5"/>
<circle cx="247.89" cy="358.79" r="2.2" fill="#000" fill-opacity="0.5"/>
<circle cx="247.13" cy="444.59" r="2.2" fill="#000" fill-opacity="0.5"/>
<circle cx="249.19" cy="489.54" r="2.2" fill="#000" fill-opacity="0.5"/>
<circle cx="248.79" cy="497.71" r="2.2" fill="#000" fill-opacity="0.5"/>
<circle cx="249.90" cy="530.40" r="2.2" fill="#000" fill-opacity="0.5"/>
<line x1="249.36" y1="541.00" x2="249.36" y2="544.20" stroke="#333" stroke-width="1"/>
<line x1="273.46" y1="330.59" x2="273.46" y2="326.10" stroke="#333" stroke-width="1"/>
<line x1="273.46" y1="429.48" x2="273.46" y2="469.93" stroke="#333" stroke-width="1"/>
<rect x="264.42" y="330.59" width="18.08" height="98.88" fill="#ed0000" stroke="#333" stroke-width="1"/>
<line x1="264.42" y1="337.34" x2="282.50" y2="337.34" stroke="#333" stroke-width="2"/>
<circle cx="273.89" cy="326.10" r="2.2" fill="#000" fill-opacity="0.5"/>
<circle cx="272.20" cy="326.10" r="2.2" fill="#000" fill-opacity="0.5"/>
<circle cx="275.40" cy="332.23" r="2.2" fill="#000" fill-opacity="0.5"/>
<circle cx="271.06" cy="333.86" r="2.2" fill="#000" fill-opacity="0.5"/>
<circle cx="273.01" cy="340.40" r="2.2" fill="#000" fill-opacity="0.5"/>
<circle cx="272.40" cy="390.86" r="2.2" fill="#000" fill-opacity="0.5"/>
<circle cx="273.03" cy="422.12" r="2.2" fill="#000" fill-opacity="0.5"/>
<circle cx="271.61" cy="454.81" r="2.2" fill="#000" fill-opacity="0.5"/>
<circle cx="275.05" cy="469.11" r="2.2" fill="#000" fill-opacity="0.5"/>
<circle cx="272.85" cy="469.93" r="2.2" fill="#000" fill-opacity="0.5"/>
<line x1="273.46" y1="541.00" x2="273.46" y2="544.20" stroke="#333" stroke-width="1"/>
<line x1="297.56" y1="332.43" x2="297.56" y2="326.10" stroke="#333" stroke-width="1"/>
<line x1="297.56" y1="358.99" x2="297.56" y2="358.99" stroke="#333" stroke-width="1"/>
<rect x="288.52" y="332.43" width="18.08" height="26.56" fill="#42b540" stroke="#333" stroke-width="1"/>
<line x1="288.52" y1="340.61" x2="306.60" y2="340.61" stroke="#333" stroke-width="2"/>
<circle cx="297.56" cy="422.12" r="2.2" fill="#000"/>
<circle cx="297.56" cy="422.12" r="2.2" fill="#000"/>
<circle cx="297.56" cy="489.54" r="2.2" fill="#000"/>
<circle cx="297.56" cy="489.54" r="2.2" fill="#000"/>
<circle cx="297.56" cy="530.40" r="2.2" fill="#000"/>
<circle cx="297.56" cy="530.40" r="2.2" fill="#000"/>
<circle cx="295.33" cy="326.71" r="2.2" fill="#000" fill-opacity="0.5"/>
<circle cx="298.11" cy="328.14" r="2.2" fill="#000" fill-opacity="0.5"/>
<circle cx="295.62" cy="332.23" r="2.2" fill="#000" fill-opacity="0.5"/>
<circle cx="297.78" cy="340.40" r="2.2" fill="#000" fill-opacity="0.5"/>
<circle cx="296.79" cy="340.40" r="2.2" fill="#000" fill-opacity="0.5"/>
<circle cx="297.95" cy="352.05" r="2.2" fill="#000" fill-opacity="0.5"/>
<circle cx="299.76" cy="358.99" r="2.2" fill="#000" fill-opacity="0.5"/>
<circle cx="299.09" cy="422.12" r="2.2" fill="#000" fill-opacity="0.5"/>
<circle cx="297.17" cy="422.12" r="2.2" fill="#000" fill-opacity="0.5"/>
<circle cx="299.06" cy="489.54" r="2.2" fill="#000" fill-opacity="0.5"/>
<circle cx="298.24" cy="489.54" r="2.2" fill="#000" fill-opacity="0.5"/>
<circle cx="296.93" cy="530.40" r="2.2" fill="#000" fill-opacity="0.5"/>
<circle cx="295.84" cy="530.40" r="2.2" fill="#000" fill-opacity="0.5"/>
<line x1="297.56" y1="541.00" x2="297.56" y2="544.20" stroke="#333" stroke-width="1"/>
<line x1="321.66" y1="330.59" x2="321.66" y2="326.10" stroke="#333" stroke-width="1"/>
<line x1="321.66" y1="430.91" x2="321.66" y2="497.71" stroke="#333" stroke-width="1"/>
<rect x="312.62" y="330.59" width="18.08" height="100.31" fill="#0099b4" stroke="#333" stroke-width="1"/>
<line x1="312.62" y1="336.11" x2="330.70" y2="336.11" stroke="#333" stroke-width="2"/>
<circle cx="322.12" cy="326.10" r="2.2" fill="#000" fill-opacity="0.5"/>
<circle cx="321.97" cy="326.10" r="2.2" fill="#000" fill-opacity="0.5"/>
<circle cx="323.85" cy="332.23" r="2.2" fill="#000" fill-opacity="0.5"/>
<circle cx="323.91" cy="334.27" r="2.2" fill="#000" fill-opacity="0.5"/>
<circle cx="322.18" cy="336.31" r="2.2" fill="#000" fill-opacity="0.5"/>
<circle cx="320.95" cy="339.38" r="2.2" fill="#000" fill-opacity="0.5"/>
<circle cx="323.55" cy="342.44" r="2.2" fill="#000" fill-opacity="0.5"/>
<circle cx="319.26" cy="364.10" r="2.2" fill="#000" fill-opacity="0.5"/>
<circle cx="319.78" cy="390.25" r="2.2" fill="#000" fill-opacity="0.5"/>
<circle cx="321.98" cy="444.59" r="2.2" fill="#000" fill-opacity="0.5"/>
<circle cx="322.21" cy="446.64" r="2.2" fill="#000" fill-opacity="0.5"/>
<circle cx="319.94" cy="454.81" r="2.2" fill="#000" fill-opacity="0.5"/>
<circle cx="322.28" cy="469.11" r="2.2" fill="#000" fill-opacity="0.5"/>
<circle cx="323.54" cy="471.15" r="2.2" fill="#000" fill-opacity="0.5"/>
<circle cx="321.06" cy="497.71" r="2.2" fill="#000" fill-opacity="0.5"/>
<line x1="321.66" y1="541.00" x2="321.66" y2="544.20" stroke="#333" stroke-width="1"/>
<line x1="360.30" y1="370.20" x2="360.30" y2="383.20" stroke="#333" stroke-width="1"/>
<rect x="354.30" y="372.30" width="12.00" height="8.80" fill="#0a6eb2" stroke="#333" stroke-width="1"/>
<line x1="354.30" y1="376.70" x2="366.30" y2="376.70" stroke="#333" stroke-width="1.5"/>
<circle cx="360.30" cy="376.70" r="2.0" fill="#000" fill-opacity="0.5"/>
<text x="374.20" y="379.80" font-size="8.6" fill="#1a1a1a" text-anchor="start">Age Older</text>
<line x1="360.30" y1="386.95" x2="360.30" y2="399.95" stroke="#333" stroke-width="1"/>
<rect x="354.30" y="389.05" width="12.00" height="8.80" fill="#c9001f" stroke="#333" stroke-width="1"/>
<line x1="354.30" y1="393.45" x2="366.30" y2="393.45" stroke="#333" stroke-width="1.5"/>
<circle cx="360.30" cy="393.45" r="2.0" fill="#000" fill-opacity="0.5"/>
<text x="374.20" y="396.55" font-size="8.6" fill="#1a1a1a" text-anchor="start">Age Younger</text>
<line x1="360.30" y1="403.70" x2="360.30" y2="416.70" stroke="#333" stroke-width="1"/>
<rect x="354.30" y="405.80" width="12.00" height="8.80" fill="#00468b" stroke="#333" stroke-width="1"/>
<line x1="354.30" y1="410.20" x2="366.30" y2="410.20" stroke="#333" stroke-width="1.5"/>
<circle cx="360.30" cy="410.20" r="2.0" fill="#000" fill-opacity="0.5"/>
<text x="374.20" y="413.30" font-size="8.6" fill="#1a1a1a" text-anchor="start">Concentration High</text>
<line x1="360.30" y1="420.45" x2="360.30" y2="433.45" stroke="#333" stroke-width="1"/>
<rect x="354.30" y="422.55" width="12.00" height="8.80" fill="#ed0000" stroke="#333" stroke-width="1"/>
<line x1="354.30" y1="426.95" x2="366.30" y2="426.95" stroke="#333" stroke-width="1.5"/>
<circle cx="360.30" cy="426.95" r="2.0" fill="#000" fill-opacity="0.5"/>
<text x="374.20" y="430.05" font-size="8.6" fill="#1a1a1a" text-anchor="start">Concentration Low</text>
<line x1="360.30" y1="437.20" x2="360.30" y2="450.20" stroke="#333" stroke-width="1"/>
<rect x="354.30" y="439.30" width="12.00" height="8.80" fill="#42b540" stroke="#333" stroke-width="1"/>
<line x1="354.30" y1="443.70" x2="366.30" y2="443.70" stroke="#333" stroke-width="1.5"/>
<circle cx="360.30" cy="443.70" r="2.0" fill="#000" fill-opacity="0.5"/>
<text x="374.20" y="446.80" font-size="8.6" fill="#1a1a1a" text-anchor="start">Gender F</text>
<line x1="360.30" y1="453.95" x2="360.30" y2="466.95" stroke="#333" stroke-width="1"/>
<rect x="354.30" y="456.05" width="12.00" height="8.80" fill="#0099b4" stroke="#333" stroke-width="1"/>
<line x1="354.30" y1="460.45" x2="366.30" y2="460.45" stroke="#333" stroke-width="1.5"/>
<circle cx="360.30" cy="460.45" r="2.0" fill="#000" fill-opacity="0.5"/>
<text x="374.20" y="463.55" font-size="8.6" fill="#1a1a1a" text-anchor="start">Gender M</text>
<text x="463.40" y="287.00" font-size="13" fill="#000" text-anchor="start" font-weight="bold">D</text>
<rect x="493.40" y="278.20" width="190.70" height="253.30" fill="none" stroke="#444" stroke-width="1"/>
<line x1="491.20" y1="519.80" x2="493.40" y2="519.80" stroke="#333" stroke-width="1"/>
<text x="488.20" y="522.70" font-size="8.6" fill="#4d4d4d" text-anchor="end">0.0</text>
<line x1="491.20" y1="456.92" x2="493.40" y2="456.92" stroke="#333" stroke-width="1"/>
<text x="488.20" y="459.82" font-size="8.6" fill="#4d4d4d" text-anchor="end">0.3</text>
<line x1="491.20" y1="394.04" x2="493.40" y2="394.04" stroke="#333" stroke-width="1"/>
<text x="488.20" y="396.94" font-size="8.6" fill="#4d4d4d" text-anchor="end">0.6</text>
<line x1="491.20" y1="331.16" x2="493.40" y2="331.16" stroke="#333" stroke-width="1"/>
<text x="488.20" y="334.06" font-size="8.6" fill="#4d4d4d" text-anchor="end">0.9</text>
<text x="472.30" y="404.80" font-size="10.8" fill="#000" text-anchor="middle" transform="rotate(-90 472.30 404.80)">Predicted risk score</text>
<text x="537.60" y="290.40" font-size="10.7" fill="#000" text-anchor="start">p = 0.71</text>
<line x1="545.42" y1="315.65" x2="545.42" y2="310.20" stroke="#333" stroke-width="1"/>
<line x1="545.42" y1="369.52" x2="545.42" y2="434.91" stroke="#333" stroke-width="1"/>
<rect x="512.91" y="315.65" width="65.03" height="53.87" fill="#0a6eb2" stroke="#333" stroke-width="1"/>
<line x1="512.91" y1="324.87" x2="577.93" y2="324.87" stroke="#333" stroke-width="2"/>
<circle cx="545.42" cy="459.02" r="2.2" fill="#000"/>
<circle cx="545.42" cy="459.02" r="2.2" fill="#000"/>
<circle cx="545.42" cy="477.88" r="2.2" fill="#000"/>
<circle cx="545.42" cy="477.88" r="2.2" fill="#000"/>
<circle cx="545.42" cy="519.80" r="2.2" fill="#000"/>
<circle cx="545.42" cy="519.80" r="2.2" fill="#000"/>
<circle cx="538.00" cy="310.20" r="2.2" fill="#000" fill-opacity="0.5"/>
<circle cx="549.60" cy="310.20" r="2.2" fill="#000" fill-opacity="0.5"/>
<circle cx="538.40" cy="316.49" r="2.2" fill="#000" fill-opacity="0.5"/>
<circle cx="548.60" cy="316.49" r="2.2" fill="#000" fill-opacity="0.5"/>
<circle cx="550.20" cy="319.00" r="2.2" fill="#000" fill-opacity="0.5"/>
<circle cx="536.80" cy="326.97" r="2.2" fill="#000" fill-opacity="0.5"/>
<circle cx="544.10" cy="324.87" r="2.2" fill="#000" fill-opacity="0.5"/>
<circle cx="548.60" cy="324.87" r="2.2" fill="#000" fill-opacity="0.5"/>
<circle cx="552.30" cy="324.87" r="2.2" fill="#000" fill-opacity="0.5"/>
<circle cx="550.00" cy="337.45" r="2.2" fill="#000" fill-opacity="0.5"/>
<circle cx="541.50" cy="349.40" r="2.2" fill="#000" fill-opacity="0.5"/>
<circle cx="548.80" cy="376.43" r="2.2" fill="#000" fill-opacity="0.5"/>
<circle cx="538.40" cy="431.77" r="2.2" fill="#000" fill-opacity="0.5"/>
<circle cx="542.90" cy="434.91" r="2.2" fill="#000" fill-opacity="0.5"/>
<circle cx="536.90" cy="459.02" r="2.2" fill="#000" fill-opacity="0.5"/>
<circle cx="545.20" cy="459.02" r="2.2" fill="#000" fill-opacity="0.5"/>
<circle cx="541.40" cy="477.88" r="2.2" fill="#000" fill-opacity="0.5"/>
<circle cx="545.20" cy="477.88" r="2.2" fill="#000" fill-opacity="0.5"/>
<circle cx="542.90" cy="519.80" r="2.2" fill="#000" fill-opacity="0.5"/>
<circle cx="545.20" cy="519.80" r="2.2" fill="#000" fill-opacity="0.5"/>
<line x1="545.42" y1="531.50" x2="545.42" y2="533.80" stroke="#333" stroke-width="1"/>
<line x1="632.12" y1="316.91" x2="632.12" y2="312.72" stroke="#333" stroke-width="1"/>
<line x1="632.12" y1="407.87" x2="632.12" y2="486.26" stroke="#333" stroke-width="1"/>
<rect x="599.61" y="316.91" width="65.03" height="90.97" fill="#c9001f" stroke="#333" stroke-width="1"/>
<line x1="599.61" y1="322.15" x2="664.63" y2="322.15" stroke="#333" stroke-width="2"/>
<circle cx="626.70" cy="314.39" r="2.2" fill="#000" fill-opacity="0.5"/>
<circle cx="638.90" cy="312.72" r="2.2" fill="#000" fill-opacity="0.5"/>
<circle cx="624.60" cy="317.33" r="2.2" fill="#000" fill-opacity="0.5"/>
<circle cx="638.10" cy="318.58" r="2.2" fill="#000" fill-opacity="0.5"/>
<circle cx="640.20" cy="316.49" r="2.2" fill="#000" fill-opacity="0.5"/>
<circle cx="635.70" cy="322.78" r="2.2" fill="#000" fill-opacity="0.5"/>
<circle cx="625.90" cy="326.97" r="2.2" fill="#000" fill-opacity="0.5"/>
<circle cx="640.00" cy="343.95" r="2.2" fill="#000" fill-opacity="0.5"/>
<circle cx="630.60" cy="407.87" r="2.2" fill="#000" fill-opacity="0.5"/>
<circle cx="637.10" cy="441.41" r="2.2" fill="#000" fill-opacity="0.5"/>
<circle cx="638.00" cy="456.50" r="2.2" fill="#000" fill-opacity="0.5"/>
<circle cx="635.60" cy="486.26" r="2.2" fill="#000" fill-opacity="0.5"/>
<line x1="632.12" y1="531.50" x2="632.12" y2="533.80" stroke="#333" stroke-width="1"/>
<text x="545.40" y="543.20" font-size="8.75" fill="#4d4d4d" text-anchor="middle">Stage Early</text>
<text x="632.10" y="543.20" font-size="8.75" fill="#4d4d4d" text-anchor="middle">Stage Later</text>
<text x="1.70" y="564.40" font-size="13" fill="#000" text-anchor="start" font-weight="bold">E</text>
<line x1="46.80" y1="785.60" x2="264.40" y2="566.40" stroke="#9a9a9a" stroke-width="1.1" stroke-dasharray="1.2 3.3 4.4 3.3"/>
<polyline points="46.80,785.60 46.80,625.60 48.70,625.60 48.70,596.20 56.90,596.20 56.90,585.60 65.20,585.60 65.20,576.00 120.90,576.00 264.40,566.40" fill="none" stroke="#2a5ca8" stroke-width="1.2" stroke-linejoin="round" stroke-linejoin="miter"/>
<polyline points="46.80,785.60 46.80,633.50 49.60,633.50 49.60,599.70 57.30,599.70 57.30,582.70 65.20,582.70 65.20,566.40 264.40,566.40" fill="none" stroke="#ec3a3f" stroke-width="1.2" stroke-linejoin="round" stroke-linejoin="miter"/>
<line x1="36.40" y1="555.50" x2="36.40" y2="796.20" stroke="#333" stroke-width="1.2"/>
<line x1="35.80" y1="795.60" x2="274.50" y2="795.60" stroke="#333" stroke-width="1.2"/>
<line x1="33.80" y1="785.60" x2="36.40" y2="785.60" stroke="#333" stroke-width="1"/>
<text x="31.90" y="788.50" font-size="8.6" fill="#4d4d4d" text-anchor="end">0.00</text>
<line x1="33.80" y1="730.80" x2="36.40" y2="730.80" stroke="#333" stroke-width="1"/>
<text x="31.90" y="733.70" font-size="8.6" fill="#4d4d4d" text-anchor="end">0.25</text>
<line x1="33.80" y1="676.00" x2="36.40" y2="676.00" stroke="#333" stroke-width="1"/>
<text x="31.90" y="678.90" font-size="8.6" fill="#4d4d4d" text-anchor="end">0.50</text>
<line x1="33.80" y1="621.20" x2="36.40" y2="621.20" stroke="#333" stroke-width="1"/>
<text x="31.90" y="624.10" font-size="8.6" fill="#4d4d4d" text-anchor="end">0.75</text>
<line x1="33.80" y1="566.40" x2="36.40" y2="566.40" stroke="#333" stroke-width="1"/>
<text x="31.90" y="569.30" font-size="8.6" fill="#4d4d4d" text-anchor="end">1.00</text>
<line x1="46.80" y1="795.60" x2="46.80" y2="798.20" stroke="#333" stroke-width="1"/>
<text x="46.80" y="807.00" font-size="8.6" fill="#4d4d4d" text-anchor="middle">1.00</text>
<line x1="101.20" y1="795.60" x2="101.20" y2="798.20" stroke="#333" stroke-width="1"/>
<text x="101.20" y="807.00" font-size="8.6" fill="#4d4d4d" text-anchor="middle">0.75</text>
<line x1="155.60" y1="795.60" x2="155.60" y2="798.20" stroke="#333" stroke-width="1"/>
<text x="155.60" y="807.00" font-size="8.6" fill="#4d4d4d" text-anchor="middle">0.50</text>
<line x1="210.00" y1="795.60" x2="210.00" y2="798.20" stroke="#333" stroke-width="1"/>
<text x="210.00" y="807.00" font-size="8.6" fill="#4d4d4d" text-anchor="middle">0.25</text>
<line x1="264.40" y1="795.60" x2="264.40" y2="798.20" stroke="#333" stroke-width="1"/>
<text x="264.40" y="807.00" font-size="8.6" fill="#4d4d4d" text-anchor="middle">0.00</text>
<text x="155.20" y="819.30" font-size="10.5" fill="#000" text-anchor="middle">specificity</text>
<text x="11.00" y="675.60" font-size="10.5" fill="#000" text-anchor="middle" transform="rotate(-90 11.00 675.60)">sensitivity</text>
<text x="155.90" y="653.20" font-size="10.6" fill="#000" text-anchor="middle">p=4.128e−01</text>
<text x="153.60" y="672.00" font-size="10.6" fill="#5585c0" text-anchor="middle" stroke="#5585c0" stroke-width="0.2">Later AUC = 0.9881</text>
<text x="155.60" y="692.10" font-size="10.6" fill="#5585c0" text-anchor="middle" stroke="#5585c0" stroke-width="0.2">Early AUC = 0.9619</text>
<line x1="292.00" y1="667.30" x2="305.90" y2="667.30" stroke="#2a5ca8" stroke-width="1.2"/>
<line x1="292.00" y1="684.10" x2="305.90" y2="684.10" stroke="#ec3a3f" stroke-width="1.2"/>
<text x="312.70" y="670.50" font-size="8.6" fill="#1a1a1a" text-anchor="start">Early</text>
<text x="312.70" y="687.00" font-size="8.6" fill="#1a1a1a" text-anchor="start">Later</text>
<text x="347.40" y="564.40" font-size="13" fill="#000" text-anchor="start" font-weight="bold">F</text>
<line x1="392.50" y1="785.60" x2="577.80" y2="566.40" stroke="#9a9a9a" stroke-width="1.1" stroke-dasharray="1.2 3.3 4.4 3.3"/>
<polyline points="392.50,785.60 481.60,647.00 577.80,566.40" fill="none" stroke="#ec2a2f" stroke-width="1.2" stroke-linejoin="round"/>
<polyline points="392.50,785.60 393.10,785.60 393.10,754.00 394.60,754.00 396.80,749.50 399.20,734.30 404.60,728.50 411.40,711.10 412.50,702.90 416.50,677.40 419.80,650.00 420.90,632.40 423.80,616.30 427.40,616.00 434.00,604.60 439.90,597.30 442.00,590.00 443.50,578.40 445.40,572.30 481.60,572.30 484.90,566.40 577.80,566.40" fill="none" stroke="#2a5ca8" stroke-width="1.2" stroke-linejoin="round"/>
<polyline points="392.50,785.60 392.50,671.50 397.30,671.50 397.30,662.40 399.70,662.40 399.70,627.30 402.60,627.30 402.60,618.50 404.50,618.50 404.50,583.50 419.40,583.50 419.40,574.50 449.50,574.50 449.50,566.40 577.80,566.40" fill="none" stroke="#5cc75c" stroke-width="1.2" stroke-linejoin="round" stroke-linejoin="miter"/>
<polyline points="392.50,785.60 392.50,628.70 395.30,628.70 395.30,597.30 400.40,597.30 400.40,584.60 407.00,584.60 407.00,578.40 408.80,578.40 408.80,572.20 481.60,572.20 577.80,566.40" fill="none" stroke="#2aa6c9" stroke-width="1.2" stroke-linejoin="round" stroke-linejoin="miter"/>
<line x1="382.60" y1="555.50" x2="382.60" y2="796.20" stroke="#333" stroke-width="1.2"/>
<line x1="382.00" y1="795.60" x2="587.70" y2="795.60" stroke="#333" stroke-width="1.2"/>
<line x1="380.00" y1="785.60" x2="382.60" y2="785.60" stroke="#333" stroke-width="1"/>
<text x="378.10" y="788.50" font-size="8.6" fill="#4d4d4d" text-anchor="end">0.00</text>
<line x1="380.00" y1="730.80" x2="382.60" y2="730.80" stroke="#333" stroke-width="1"/>
<text x="378.10" y="733.70" font-size="8.6" fill="#4d4d4d" text-anchor="end">0.25</text>
<line x1="380.00" y1="676.00" x2="382.60" y2="676.00" stroke="#333" stroke-width="1"/>
<text x="378.10" y="678.90" font-size="8.6" fill="#4d4d4d" text-anchor="end">0.50</text>
<line x1="380.00" y1="621.20" x2="382.60" y2="621.20" stroke="#333" stroke-width="1"/>
<text x="378.10" y="624.10" font-size="8.6" fill="#4d4d4d" text-anchor="end">0.75</text>
<line x1="380.00" y1="566.40" x2="382.60" y2="566.40" stroke="#333" stroke-width="1"/>
<text x="378.10" y="569.30" font-size="8.6" fill="#4d4d4d" text-anchor="end">1.00</text>
<line x1="392.50" y1="795.60" x2="392.50" y2="798.20" stroke="#333" stroke-width="1"/>
<text x="392.50" y="807.00" font-size="8.6" fill="#4d4d4d" text-anchor="middle">1.00</text>
<line x1="438.82" y1="795.60" x2="438.82" y2="798.20" stroke="#333" stroke-width="1"/>
<text x="438.82" y="807.00" font-size="8.6" fill="#4d4d4d" text-anchor="middle">0.75</text>
<line x1="485.15" y1="795.60" x2="485.15" y2="798.20" stroke="#333" stroke-width="1"/>
<text x="485.15" y="807.00" font-size="8.6" fill="#4d4d4d" text-anchor="middle">0.50</text>
<line x1="531.48" y1="795.60" x2="531.48" y2="798.20" stroke="#333" stroke-width="1"/>
<text x="531.48" y="807.00" font-size="8.6" fill="#4d4d4d" text-anchor="middle">0.25</text>
<line x1="577.80" y1="795.60" x2="577.80" y2="798.20" stroke="#333" stroke-width="1"/>
<text x="577.80" y="807.00" font-size="8.6" fill="#4d4d4d" text-anchor="middle">0.00</text>
<text x="485.20" y="819.30" font-size="10.5" fill="#000" text-anchor="middle">specificity</text>
<text x="357.00" y="675.60" font-size="10.5" fill="#000" text-anchor="middle" transform="rotate(-90 357.00 675.60)">sensitivity</text>
<text x="523.30" y="704.20" font-size="10.6" fill="#5585c0" text-anchor="middle" stroke="#5585c0" stroke-width="0.2">Age AUC = 0.8633</text>
<text x="523.30" y="719.60" font-size="10.6" fill="#5585c0" text-anchor="middle" stroke="#5585c0" stroke-width="0.2">Gender AUC = 0.5737</text>
<text x="523.10" y="734.90" font-size="10.6" fill="#5585c0" text-anchor="middle" stroke="#5585c0" stroke-width="0.2">Concentration AUC = 0.9602</text>
<text x="523.30" y="749.60" font-size="10.6" fill="#5585c0" text-anchor="middle" stroke="#5585c0" stroke-width="0.2">Risk AUC = 0.9703</text>
<line x1="605.00" y1="650.70" x2="618.20" y2="650.70" stroke="#2a5ca8" stroke-width="1.2"/>
<text x="625.40" y="653.90" font-size="8.6" fill="#1a1a1a" text-anchor="start">Age</text>
<line x1="605.00" y1="667.25" x2="618.20" y2="667.25" stroke="#ec2a2f" stroke-width="1.2"/>
<text x="625.40" y="670.45" font-size="8.6" fill="#1a1a1a" text-anchor="start">Gender</text>
<line x1="605.00" y1="683.80" x2="618.20" y2="683.80" stroke="#5cc75c" stroke-width="1.2"/>
<text x="625.40" y="687.00" font-size="8.6" fill="#1a1a1a" text-anchor="start">Concentration</text>
<line x1="605.00" y1="700.35" x2="618.20" y2="700.35" stroke="#2aa6c9" stroke-width="1.2"/>
<text x="625.40" y="703.55" font-size="8.6" fill="#1a1a1a" text-anchor="start">Risk</text>
</svg></body></html>
